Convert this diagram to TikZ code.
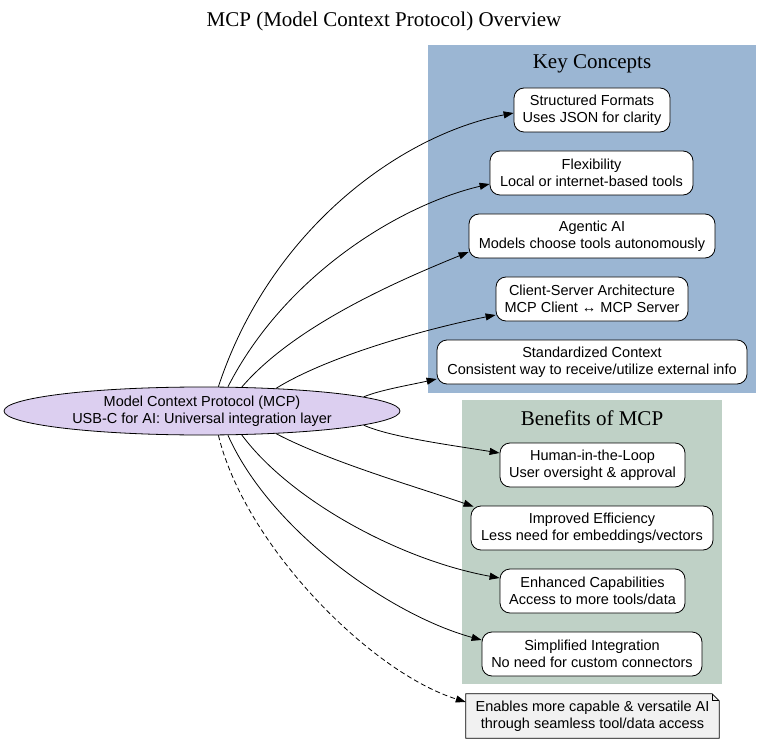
\documentclass[tikz,border=0pt]{standalone}
\usepackage{fontspec}
\setmainfont{Liberation Serif}
\newfontfamily\arialf{Liberation Sans}
\usetikzlibrary{arrows.meta,calc,shapes.geometric}
\definecolor{kcblue}{HTML}{9BB6D3}
\definecolor{bfgreen}{HTML}{BFD1C6}
\definecolor{mcplav}{HTML}{DCCFF0}
\definecolor{notegray}{HTML}{F1F1F1}
\tikzset{
  box/.style={draw=black, line width=0.8pt, fill=white, rounded corners=10pt,
    minimum height=44pt, inner sep=2pt, align=center,
    font=\arialf\fontsize{14.5}{17}\selectfont},
  notebox/.style={inner sep=2pt, align=center, minimum height=44pt,
    font=\arialf\fontsize{14.5}{17}\selectfont},
  ctitle/.style={font=\fontsize{21}{24}\selectfont, inner sep=0pt},
  conn/.style={line width=0.8pt, -{Triangle[length=10pt,width=7pt]}},
}
\begin{document}
\begin{tikzpicture}[x=1pt,y=-1pt]
\useasboundingbox (0,0) rectangle (768,743);
% clusters
\fill[kcblue] (428,45) rectangle (756,393);
\fill[bfgreen] (462,400) rectangle (722,684);
\node[ctitle] (title) at (384,21) {MCP (Model Context Protocol) Overview};
\node[ctitle] (kct) at (592,64) {Key Concepts};
\node[ctitle] (bft) at (592,418) {Benefits of MCP};
% central
\node[ellipse, draw=black, line width=0.8pt, fill=mcplav, minimum width=396pt, minimum height=48pt,
  inner sep=0pt, align=center, font=\arialf\fontsize{14.5}{17}\selectfont] (mcp) at (202,411)
  {Model Context Protocol (MCP)\\USB-C for AI: Universal integration layer};
% key concepts
\node[box, minimum width=156pt] (sf) at (592,110) {Structured Formats\\Uses JSON for clarity};
\node[box, minimum width=203pt] (fl) at (591.5,173) {Flexibility\\Local or internet-based tools};
\node[box, minimum width=246pt] (ag) at (592,236) {Agentic AI\\Models choose tools autonomously};
\node[box, minimum width=192pt] (cs) at (592,299) {Client-Server Architecture\\MCP Client ↔ MCP Server};
\node[box, minimum width=310pt] (st) at (592,362) {Standardized Context\\Consistent way to receive/utilize external info};
% benefits
\node[box, minimum width=185pt] (hu) at (592.5,465) {Human-in-the-Loop\\User oversight \& approval};
\node[box, minimum width=242pt] (ie) at (592,528) {Improved Efficiency\\Less need for embeddings/vectors};
\node[box, minimum width=185pt] (ec) at (592.5,591) {Enhanced Capabilities\\Access to more tools/data};
\node[box, minimum width=220pt] (si) at (592,654) {Simplified Integration\\No need for custom connectors};
% note
\node[notebox, minimum width=253pt] (nt) at (592.5,716) {Enables more capable \& versatile AI\\through seamless tool/data access};
\draw[line width=0.8pt, fill=notegray] (nt.south west) -- (nt.north west) -- ($(nt.north east)+(-7,0)$)
  -- ($(nt.north east)+(0,7)$) -- (nt.south east) -- cycle;
\draw[line width=0.8pt] ($(nt.north east)+(-7,0)$) -- ($(nt.north east)+(-7,7)$) -- ($(nt.north east)+(0,7)$);
\node[notebox, minimum width=253pt] at (nt) {Enables more capable \& versatile AI\\through seamless tool/data access};
% connectors
\draw[conn] (mcp.56.2) .. controls (270,230) and (400,135) .. ($(sf.west)+(0,3)$);
\draw[conn] (mcp.43.6) .. controls (285,275) and (400,205) .. ($(fl.west)+(0,11)$);
\draw[conn] (mcp.31.8) .. controls (295,325) and (400,280) .. ($(ag.west)+(0,16)$);
\draw[conn] (mcp.17.8) .. controls (330,355) and (430,328) .. ($(cs.west)+(0,16)$);
\draw[conn] (mcp.5.9) .. controls (380,390) and (410,385) .. ($(st.west)+(0,17)$);
\draw[conn] (mcp.-5.7) .. controls (390,437) and (450,445) .. ($(hu.west)+(0,-12)$);
\draw[conn] (mcp.-17.9) .. controls (330,462) and (420,488) .. ($(ie.north west)+(3,1)$);
\draw[conn] (mcp.-31.8) .. controls (290,500) and (400,560) .. ($(ec.west)+(0,-13)$);
\draw[conn] (mcp.-43.6) .. controls (270,530) and (390,615) .. ($(si.west)+(0,-14)$);
\draw[conn, dash pattern=on 5pt off 3pt] (mcp.-56.2) .. controls (245,545) and (370,672) .. ($(nt.west)+(0,-14)$);
\end{tikzpicture}
\end{document}
